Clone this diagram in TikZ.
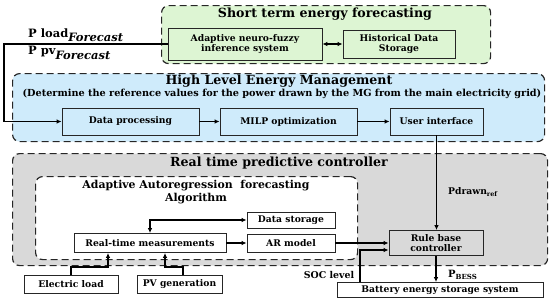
\documentclass[tikz,border=0pt]{standalone}
\usepackage{fontspec}
\setmainfont{DejaVu Serif}
\usetikzlibrary{arrows.meta}
\definecolor{stefgreen}{RGB}{221,245,211}
\definecolor{hlblue}{RGB}{207,235,251}
\definecolor{rtgray}{RGB}{217,217,217}
\tikzset{
  container/.style={draw=black!85, line width=1.2pt, dash pattern=on 7pt off 4pt, rounded corners=7pt, anchor=north west, inner sep=0pt},
  blk/.style={draw=black!85, line width=0.8pt, align=center, inner sep=1pt, font=\fontsize{9.2}{10.5}\selectfont\bfseries},
  conn/.style={line width=1.4pt, -{Latex[length=5pt,width=4.5pt]}},
  conn2/.style={line width=1.4pt, {Latex[length=5pt,width=4.5pt]}-{Latex[length=5pt,width=4.5pt]}},
  ttl/.style={font=\fontsize{12.6}{13.5}\selectfont\bfseries, align=center, inner sep=0pt},
  lbl/.style={font=\fontsize{9.4}{10.5}\selectfont\bfseries, inner sep=0pt},
}
\begin{document}
\begin{tikzpicture}[x=1pt,y=-1pt]
\useasboundingbox (0,0) rectangle (550,301);
% containers
\node[container, fill=stefgreen, minimum width=329pt, minimum height=58pt] (stef) at (161,5) {};
\node[container, fill=hlblue, minimum width=532pt, minimum height=68pt] (hlem) at (12,73) {};
\node[container, fill=rtgray, minimum width=535pt, minimum height=112pt] (rtpc) at (12,153) {};
\node[container, fill=white, minimum width=322pt, minimum height=83pt] (aar) at (35,176) {};
% titles
\node[ttl] (t1) at (325,14.5) {Short term energy forecasting};
\node[ttl] (t2) at (279,81) {High Level Energy Management};
\node[lbl, font=\fontsize{9.7}{11}\selectfont\bfseries] (t2b) at (282,94) {(Determine the reference values for the power drawn by the MG from the main electricity grid)};
\node[ttl] (t3) at (279,163) {Real time predictive controller};
\node[ttl, font=\fontsize{10.9}{13}\selectfont\bfseries] (t4) at (196,192) {Adaptive Autoregression\ \ forecasting\\Algorithm};
% blocks
\node[blk, fill=stefgreen, minimum width=154pt, minimum height=32pt] (anfis) at (245,44) {Adaptive neuro-fuzzy\\inference system};
\node[blk, fill=stefgreen, minimum width=112pt, minimum height=28pt] (hist) at (399,44) {Historical Data\\Storage};
\node[blk, fill=hlblue, minimum width=137pt, minimum height=27pt] (dp) at (130.5,121.5) {Data processing};
\node[blk, fill=hlblue, minimum width=137pt, minimum height=27pt] (milp) at (288.5,121.5) {MILP optimization};
\node[blk, fill=hlblue, minimum width=93pt, minimum height=27pt] (ui) at (436.5,121.5) {User interface};
\node[blk, fill=white, minimum width=88pt, minimum height=16pt] (ds) at (291,220) {Data storage};
\node[blk, fill=white, minimum width=152pt, minimum height=19pt] (rtm) at (150,243) {Real-time measurements};
\node[blk, fill=white, minimum width=88pt, minimum height=18pt] (ar) at (291,243) {AR model};
\node[blk, fill=rtgray, minimum width=94pt, minimum height=25pt] (rbc) at (436,243) {Rule base\\controller};
\node[blk, fill=white, minimum width=206pt, minimum height=15pt] (bess) at (440,290) {Battery energy storage system};
\node[blk, fill=white, minimum width=94pt, minimum height=18pt] (el) at (71,284) {Electric load};
\node[blk, fill=white, minimum width=85pt, minimum height=18pt] (pv) at (179.5,284) {PV generation};
% labels
\node[lbl, font=\fontsize{11.5}{13}\selectfont\bfseries, anchor=west] (pl) at (28,35) {P load$_{\textit{Forecast}}$};
\node[lbl, font=\fontsize{11.5}{13}\selectfont\bfseries, anchor=west] (pp) at (28,53) {P pv$_{\textit{Forecast}}$};
\node[lbl, font=\fontsize{9.2}{11}\selectfont\bfseries, anchor=west] (pd) at (448,192) {Pdrawn\textsubscript{ref}};
\node[lbl] (soc) at (329,275) {SOC level};
\node[lbl, font=\fontsize{10}{12}\selectfont\bfseries, anchor=west] (pb) at (448,275) {P\textsubscript{BESS}};
% coordinates
\coordinate (fl) at (4,44);
\coordinate (socb) at (360,250);
\coordinate (elb) at (108,267);
\coordinate (ela) at (71,267);
\coordinate (pva) at (183,267);
\coordinate (pvb) at (165,267);
% connectors
\draw[conn2] (anfis) -- (hist);
\draw[conn] (anfis.west) -- (fl) |- (dp.west);
\draw[conn] (dp) -- (milp);
\draw[conn] (milp) -- (ui);
\draw[conn] (ui.south) -- (ui.south |- rbc.north);
\draw[conn] (rtm) -- (ar);
\draw[conn2] (rtm.north) |- (ds.west);
\draw[conn] (ar.east) -- (ar.east -| rbc.west);
\draw[conn] (socb |- bess.north) -- (socb) -- (socb -| rbc.west);
\draw[conn] (rbc.south) -- (rbc.south |- bess.north);
\draw[conn] (ela |- el.north) -- (ela) -- (elb) -- (elb |- rtm.south);
\draw[conn] (pva |- pv.north) -- (pva) -- (pvb) -- (pvb |- rtm.south);
\end{tikzpicture}
\end{document}
